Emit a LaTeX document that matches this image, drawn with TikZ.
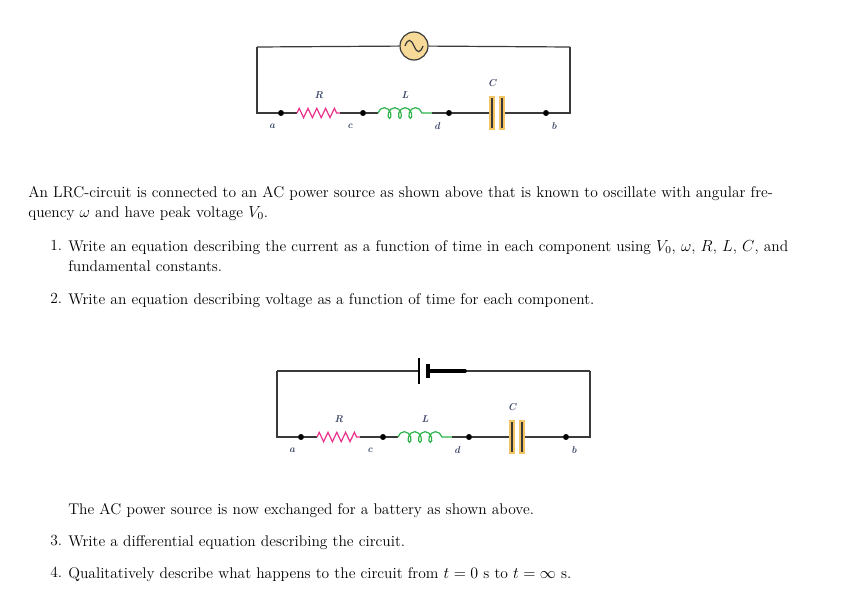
\documentclass[tikz,border=0pt]{standalone}
\usetikzlibrary{positioning, decorations.pathmorphing, decorations.pathreplacing}
\definecolor{wirec}{HTML}{3A3A3A}
\definecolor{resc}{HTML}{E8308C}
\definecolor{indc}{HTML}{2DB34A}
\definecolor{capc}{HTML}{F3C663}
\definecolor{srcc}{HTML}{F8DA98}
\definecolor{lblc}{HTML}{3F4A6B}
\begin{document}
\begin{tikzpicture}[x=0.75pt, y=-0.75pt,
    wire/.style={draw=wirec, line width=0.9pt},
    dot/.style={circle, fill=black, minimum size=4.5pt, inner sep=0pt},
    lbl/.style={text=lblc, font=\fontsize{7.5}{9}\selectfont\bfseries\itshape},
    res/.style={draw=resc, line width=0.9pt, decorate, decoration={zigzag, amplitude=3.5pt, segment length=6.6pt}},
    ind/.style={draw=indc, line width=0.9pt, decorate, decoration={coil, aspect=0.7, amplitude=4pt, segment length=7.8pt}},
    txt/.style={anchor=north west, align=left, inner sep=0pt, font=\fontsize{11.6}{15}\selectfont},
    pics/rlc/.style={code={
      % dots and end points
      \node[dot] (a) at (24,66) {};
      \node[dot] (c) at (106,66) {};
      \node[dot] (d) at (192,66) {};
      \node[dot] (b) at (289,66) {};
      \coordinate (bl) at (0,66);
      \coordinate (br) at (313,66);
      \coordinate (tl) at (0,0);
      \coordinate (tr) at (313,0);
      \coordinate (r1) at (40,66);
      \coordinate (r2) at (83,66);
      \coordinate (l1) at (121,66);
      \coordinate (l2) at (175,66);
      \coordinate (c1) at (235,66);
      \coordinate (c2) at (245,66);
      % wires
      \draw[wire] (tr) -- (br) -- (b) -- (c2);
      \draw[wire] (tl) -- (bl) -- (a) -- (r1);
      \draw[wire] (r2) -- (c) -- (l1);
      \draw[wire] (l2) -- (d) -- (c1);
      \draw[res] (r1) -- (r2);
      \draw[ind] (l1) -- (l2);
      % capacitor
      \fill[capc] (c1)+(-3.2,-17) rectangle +(3.2,17);
      \fill[capc] (c2)+(-3.2,-17) rectangle +(3.2,17);
      \draw[wirec, line width=1pt] (c1)+(0,-15) -- +(0,15);
      \draw[wirec, line width=1pt] (c2)+(0,-15) -- +(0,15);
      % labels
      \node[lbl] at (62,48) {R};
      \node[lbl] at (148,48) {L};
      \node[lbl] at (235,36) {C};
      \node[lbl] at (15,79) {a};
      \node[lbl] at (93,79) {c};
      \node[lbl] at (180,79) {d};
      \node[lbl] at (297,79) {b};
    }}
]
\useasboundingbox (0,0) rectangle (860,610);

% first circuit with AC source
\pic at (257,47) {rlc};
\node[circle, draw=wirec, fill=srcc, line width=0.9pt, minimum size=21pt, inner sep=0pt] (src) at (414,46) {};
\draw[wirec, line width=0.9pt] (405,46) .. controls (408,38) and (411,39) .. (414,46) .. controls (417,53) and (420,54) .. (423,46);
\coordinate (ac1) at (257,47);
\coordinate (ac2) at (570,47);
\draw[wire] (ac1) -- (src);
\draw[wire] (src) -- (ac2);

% text part one
\node[txt, text width=582pt] (intro) at (28,186) {An LRC-circuit is connected to an AC power source as shown above that is known to oscillate with angular frequency $\omega$ and have peak voltage $V_0$.};
\node[txt] (n1) at (50,240) {1.};
\node[txt, text width=552pt] (q1) at (68,240) {Write an equation describing the current as a function of time in each component using $V_0$, $\omega$, $R$, $L$, $C$, and fundamental constants.};
\node[txt] (n2) at (50,293) {2.};
\node[txt, text width=552pt] (q2) at (68,293) {Write an equation describing voltage as a function of time for each component.};

% second circuit with battery
\pic at (277,371) {rlc};
\coordinate (bt1) at (419,371);
\coordinate (bt2) at (428,371);
\coordinate (bt3) at (465,371);
\coordinate (dc1) at (277,371);
\coordinate (dc2) at (590,371);
\draw[wire] (dc1) -- (bt1);
\draw[wire] (bt3) -- (dc2);
\draw[black, line width=2.2pt] (bt1)+(0,-13) -- +(0,13);
\draw[black, line width=2.8pt] (bt2)+(0,-7) -- +(0,7);
\draw[black, line width=2.8pt, line cap=round] (bt2) -- (bt3);

% text part two
\node[txt, text width=552pt] (p2) at (68,503) {The AC power source is now exchanged for a battery as shown above.};
\node[txt] (n3) at (50,535) {3.};
\node[txt, text width=552pt] (q3) at (68,535) {Write a differential equation describing the circuit.};
\node[txt] (n4) at (50,567) {4.};
\node[txt, text width=552pt] (q4) at (68,567) {Qualitatively describe what happens to the circuit from $t=0$ s to $t=\infty$ s.};
\end{tikzpicture}
\end{document}
